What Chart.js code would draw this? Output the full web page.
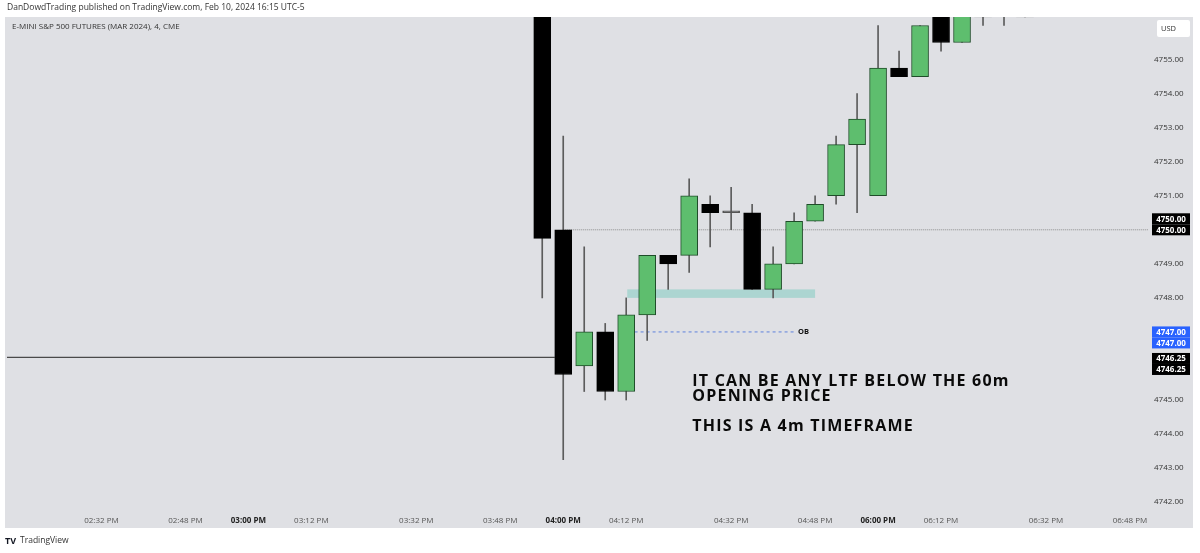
<!DOCTYPE html>
<html>
<head>
<meta charset="utf-8">
<title>E-MINI S&P 500 FUTURES (MAR 2024), 4, CME</title>
<script src="https://cdn.jsdelivr.net/npm/chart.js@4"></script>
<style>
  html, body { margin: 0; padding: 0; background: #fff; }
  canvas { display: block; }
</style>
</head>
<body>
<canvas id="chart" width="1200" height="553"></canvas>
<script>
// 4 minute bars, index 0 = 04:00 PM bar
const barIndex = [-1, 0, 1, 2, 3, 4, 5, 6, 7, 8, 9, 10, 11, 12, 13, 14, 15, 16, 17, 18, 19, 20, 21, 22];
const opens  = [4758.0, 4750.0, 4746.0, 4747.0, 4745.25, 4747.5, 4749.25, 4749.25, 4750.75, 4750.5, 4750.5, 4748.25, 4749.0, 4750.25, 4751.0, 4752.5, 4751.0, 4754.75, 4754.5, 4756.5, 4755.5, 4756.25, 4756.75, 4756.25];
const highs  = [4758.25, 4752.75, 4749.5, 4747.25, 4748.0, 4749.25, 4749.25, 4751.5, 4751.0, 4751.25, 4750.75, 4749.5, 4750.5, 4751.0, 4752.75, 4754.0, 4756.0, 4755.25, 4756.0, 4756.75, 4756.75, 4756.5, 4757.0, 4756.5];
const lows   = [4748.0, 4743.25, 4745.25, 4745.0, 4745.0, 4746.75, 4748.25, 4748.75, 4749.5, 4750.0, 4748.25, 4748.0, 4749.0, 4750.25, 4750.75, 4750.5, 4751.0, 4754.5, 4754.5, 4755.25, 4755.5, 4756.0, 4756.0, 4756.25];
const closes = [4749.75, 4745.75, 4747.0, 4745.25, 4747.5, 4749.25, 4749.0, 4751.0, 4750.5, 4750.5, 4748.25, 4749.0, 4750.25, 4750.75, 4752.5, 4753.25, 4754.75, 4754.5, 4756.0, 4755.5, 4756.5, 4756.25, 4756.5, 4756.25];

const timeTicks = [-22, -18, -15, -12, -7, -3, 0, 3, 8, 12, 15, 18, 23, 27];
const timeLabels = ["02:32 PM", "02:48 PM", "03:00 PM", "03:12 PM", "03:32 PM", "03:48 PM", "04:00 PM", "04:12 PM", "04:32 PM", "04:48 PM", "06:00 PM", "06:12 PM", "06:32 PM", "06:48 PM"];
const boldLabels = ["03:00 PM", "04:00 PM", "06:00 PM"];
const priceTicks = [4742, 4743, 4744, 4745, 4748, 4749, 4751, 4752, 4753, 4754, 4755];

const openingPrice = 4746.25;
const hourOpen = 4750;
const obPrice = 4747;
const zoneLow = 4748;
const zoneHigh = 4748.25;

const xMin = -26.5;
const xMax = 27.86;
const yMin = 4741.77;
const yMax = 4756.25;

const GREEN = "#5ebe6e";
const GREEN_EDGE = "#1f4d29";
const WICK = "#5c5c5c";

const candleColor = (i) => {
  if (closes[i] > opens[i]) return GREEN;
  if (closes[i] < opens[i]) return "#000";
  return "#555";
};
const edgeColor = (i) => {
  if (closes[i] > opens[i]) return GREEN_EDGE;
  if (closes[i] < opens[i]) return "#000";
  return "#555";
};

const tvPlugin = {
  id: "tv",
  beforeDraw(chart) {
    const { ctx } = chart;
    ctx.save();
    ctx.fillStyle = "#fff";
    ctx.fillRect(0, 0, chart.width, chart.height);
    ctx.fillStyle = "#dfe0e4";
    ctx.fillRect(5, 17, 1188, 511);
    ctx.fillStyle = "#333";
    ctx.textBaseline = "middle";
    ctx.font = "8.5px 'Open Sans'";
    ctx.fillText("DanDowdTrading published on TradingView.com, Feb 10, 2024 16:15 UTC-5", 7, 8);
    ctx.font = "8px 'Open Sans'";
    ctx.fillText("E-MINI S&P 500 FUTURES (MAR 2024), 4, CME", 12, 27);
    ctx.restore();
  },
  beforeDatasetsDraw(chart) {
    const { ctx, scales } = chart;
    const x0 = scales.x.getPixelForValue(3.05);
    const x1 = scales.x.getPixelForValue(12.0);
    const y0 = scales.y.getPixelForValue(zoneHigh);
    const y1 = scales.y.getPixelForValue(zoneLow);
    ctx.save();
    ctx.fillStyle = "#acd5d1";
    ctx.fillRect(x0, y0, x1 - x0, y1 - y0);
    ctx.restore();
  },
  afterDraw(chart) {
    const { ctx, scales } = chart;
    const xs = scales.x;
    const ys = scales.y;
    ctx.save();

    // OB label
    ctx.fillStyle = "#111";
    ctx.font = "bold 7.5px 'Open Sans'";
    ctx.textBaseline = "middle";
    ctx.fillText("OB", xs.getPixelForValue(11.0) + 4, ys.getPixelForValue(obPrice));

    // note
    ctx.font = "bold 16px 'Open Sans'";
    ctx.letterSpacing = "1.2px";
    ctx.fillStyle = "#0a0a0a";
    const tx = xs.getPixelForValue(6.15);
    ctx.fillText("IT CAN BE ANY LTF BELOW THE 60m", tx, ys.getPixelForValue(4745.56));
    ctx.fillText("OPENING PRICE", tx, ys.getPixelForValue(4745.12));
    ctx.fillText("THIS IS A 4m TIMEFRAME", tx, ys.getPixelForValue(4744.21));
    ctx.letterSpacing = "0px";

    // price tags on the axis
    const tag = (price, offset, bg) => {
      const y = ys.getPixelForValue(price) + offset;
      ctx.fillStyle = bg;
      ctx.fillRect(1152, y - 5.5, 38, 11);
      ctx.fillStyle = "#fff";
      ctx.font = "bold 8px 'Open Sans'";
      ctx.textAlign = "center";
      ctx.fillText(price.toFixed(2), 1171, y + 0.5);
    };
    tag(hourOpen, -11, "#000");
    tag(hourOpen, 0, "#000");
    tag(obPrice, 0, "#2962ff");
    tag(obPrice, 11, "#2962ff");
    tag(openingPrice, 1, "#000");
    tag(openingPrice, 12, "#000");

    // USD box
    ctx.fillStyle = "#fff";
    ctx.beginPath();
    ctx.roundRect(1157, 20, 33, 17, 2);
    ctx.fill();
    ctx.fillStyle = "#333";
    ctx.font = "7.5px 'Open Sans'";
    ctx.textAlign = "left";
    ctx.fillText("USD", 1161, 29);

    // footer
    ctx.fillStyle = "#131722";
    ctx.font = "bold 9px 'Open Sans'";
    ctx.fillText("TV", 5, 541);
    ctx.font = "8.5px 'Open Sans'";
    ctx.fillStyle = "#333";
    ctx.fillText("TradingView", 20, 541);
    ctx.restore();
  },
};

Chart.defaults.font.family = "'Open Sans', sans-serif";

new Chart(document.getElementById("chart"), {
  type: "bar",
  data: {
    datasets: [
      {
        type: "line",
        data: [{ x: xMin, y: openingPrice }, { x: -0.4, y: openingPrice }],
        borderColor: "#4a4a4a",
        borderWidth: 1.3,
        pointRadius: 0,
        order: 5,
      },
      {
        type: "line",
        data: [{ x: 0, y: hourOpen }, { x: xMax, y: hourOpen }],
        borderColor: "#8c8c8c",
        borderWidth: 1,
        borderDash: [1, 1],
        pointRadius: 0,
        order: 5,
      },
      {
        type: "line",
        data: [{ x: 3.4, y: obPrice }, { x: 11.0, y: obPrice }],
        borderColor: "#5f82dc",
        borderWidth: 1,
        borderDash: [3, 3],
        pointRadius: 0,
        order: 5,
      },
      {
        data: barIndex.map((x, i) => ({ x, y: [lows[i], highs[i]] })),
        backgroundColor: WICK,
        barThickness: 1,
        grouped: false,
        clip: 0,
        order: 2,
      },
      {
        data: barIndex.map((x, i) => ({ x, y: [opens[i], closes[i]] })),
        backgroundColor: barIndex.map((_, i) => candleColor(i)),
        borderColor: barIndex.map((_, i) => edgeColor(i)),
        borderWidth: 1,
        borderSkipped: false,
        barThickness: 17,
        minBarLength: 2,
        grouped: false,
        clip: 0,
        order: 1,
      },
    ],
  },
  options: {
    responsive: false,
    animation: false,
    devicePixelRatio: 1,
    layout: { padding: { top: 17, left: 7, right: 0, bottom: 25 } },
    plugins: { legend: { display: false }, tooltip: { enabled: false } },
    scales: {
      x: {
        type: "linear",
        min: xMin,
        max: xMax,
        offset: false,
        grid: { display: false, drawTicks: false },
        border: { display: false },
        afterBuildTicks: (scale) => {
          scale.ticks = timeTicks.map((value) => ({ value }));
        },
        afterFit: (scale) => {
          scale.height = 18;
        },
        ticks: {
          autoSkip: false,
          maxRotation: 0,
          padding: 6,
          callback: (value) => timeLabels[timeTicks.indexOf(value)],
          color: (c) => (boldLabels.includes(timeLabels[c.index]) ? "#222" : "#555"),
          font: (c) => ({
            size: 8,
            weight: boldLabels.includes(timeLabels[c.index]) ? "bold" : "normal",
          }),
        },
      },
      y: {
        position: "right",
        min: yMin,
        max: yMax,
        grid: { display: false, drawTicks: false },
        border: { display: false },
        afterBuildTicks: (scale) => {
          scale.ticks = priceTicks.map((value) => ({ value }));
        },
        afterFit: (scale) => {
          scale.width = 52;
        },
        ticks: {
          padding: 6,
          color: "#333",
          font: { size: 8 },
          callback: (value) => value.toFixed(2),
        },
      },
    },
  },
  plugins: [tvPlugin],
});
</script>
</body>
</html>
